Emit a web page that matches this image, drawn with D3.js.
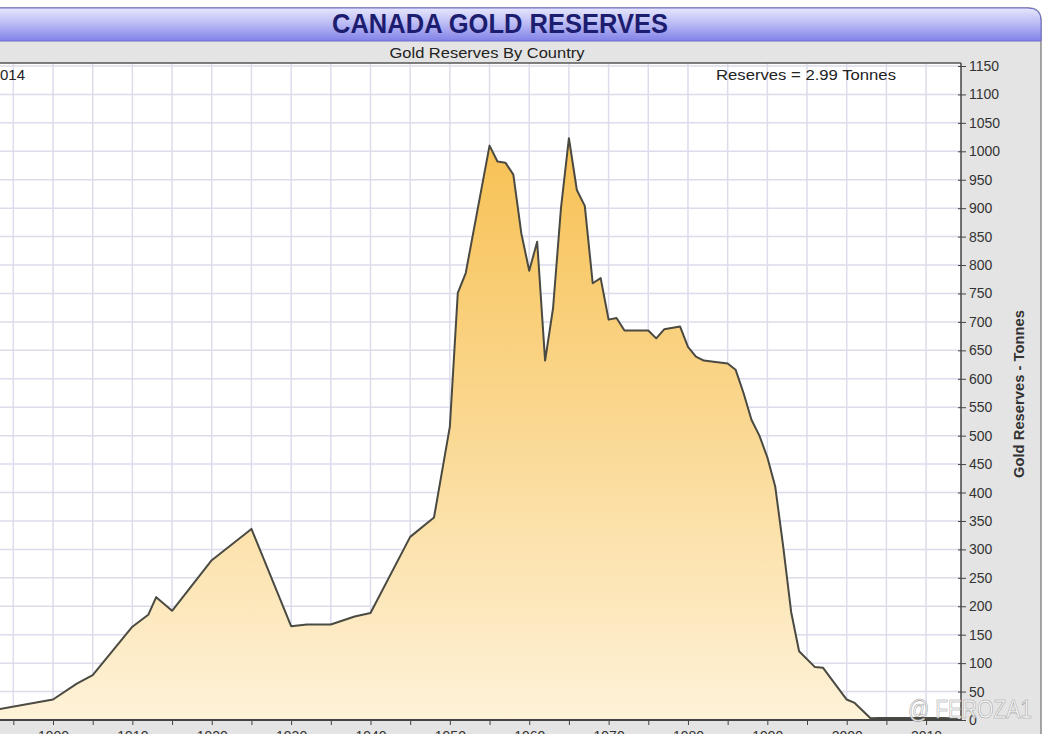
<!DOCTYPE html>
<html>
<head>
<meta charset="utf-8">
<script src="https://cdn.jsdelivr.net/npm/d3@7"></script>
<style>
  html, body { margin: 0; padding: 0; background: #fff; overflow: hidden; }
  svg { display: block; font-family: "Liberation Sans", Arial, sans-serif; }
</style>
</head>
<body>
<svg id="chart" width="1047" height="734"></svg>
<script>
// values (tonnes)
const years = [
  1890, 1900, 1903, 1905, 1910, 1912, 1913, 1915, 1920, 1925,
  1930, 1932, 1935, 1938, 1940, 1945, 1948, 1950, 1951, 1952,
  1955, 1956, 1957, 1958, 1959, 1960, 1961, 1962, 1963, 1964,
  1965, 1966, 1967, 1968, 1969, 1970, 1971, 1972, 1975, 1976,
  1977, 1979, 1980, 1981, 1982, 1985, 1986, 1987, 1988, 1989,
  1990, 1991, 1992, 1993, 1994, 1996, 1997, 2000, 2001, 2003,
  2004, 2005, 2006, 2007, 2008, 2009, 2010, 2011, 2012, 2013, 2014,
];
const reserves = [
  11, 36, 64, 79, 164, 185, 216, 192, 281, 336,
  165, 168, 168, 182, 188, 322, 356, 516, 751, 786,
  1010, 982, 980, 959, 856, 790, 841, 632, 724, 900,
  1023, 932, 904, 768, 777, 704, 707, 685, 685, 671,
  687, 692, 656, 639, 632, 627, 616, 575, 528, 500,
  462, 410, 305, 190, 121, 93, 92, 36, 30, 3,
  3.4, 3.4, 3.4, 3.4, 3.4, 3.4, 3.4, 3.4, 3.4, 3.0, 3.0,
];
const yTicks = d3.range(0, 1151, 50);
const xTicks = d3.range(1890, 2015, 5);

const TITLE = "CANADA GOLD RESERVES";
const SUBTITLE = "Gold Reserves By Country";
const NOTE = "Reserves = 2.99 Tonnes";
const DATE_STUB = "014"; // left part of the date is cropped in the source
const Y_TITLE = "Gold Reserves - Tonnes";

const data = years.map((yr, i) => ({ year: yr, value: reserves[i] }));

const svg = d3.select("#chart");
const W = 1047, H = 734;
const plot = { left: -30, right: 961, top: 63, bottom: 720 };

// 1900 sits at x=53, 2010 at x=926 in the source
const x = d3.scaleLinear()
  .domain([1890, 2014.4])
  .range([53 - 10 * 7.936, plot.right]);
const y = d3.scaleLinear()
  .domain([0, 1150])
  .range([plot.bottom, 66]);

const defs = svg.append("defs");

// header bar gradient
const hdr = defs.append("linearGradient")
  .attr("id", "hdr").attr("x1", 0).attr("y1", 0).attr("x2", 0).attr("y2", 1);
hdr.append("stop").attr("offset", "0%").attr("stop-color", "#e6e6fd");
hdr.append("stop").attr("offset", "45%").attr("stop-color", "#bdbdf5");
hdr.append("stop").attr("offset", "100%").attr("stop-color", "#8181e8");

// area fill: gold at top fading to cream at the baseline
const gold = defs.append("linearGradient")
  .attr("id", "gold")
  .attr("gradientUnits", "userSpaceOnUse")
  .attr("x1", 0).attr("y1", y(1050)).attr("x2", 0).attr("y2", y(0));
gold.append("stop").attr("offset", "0%").attr("stop-color", "#f7c050");
gold.append("stop").attr("offset", "45%").attr("stop-color", "#fad58a");
gold.append("stop").attr("offset", "100%").attr("stop-color", "#fef2d8");

// frame
svg.append("rect")
  .attr("width", W).attr("height", H).attr("fill", "#fff");
svg.append("path")
  .attr("d", `M-10,8 H1028 Q1041,8 1041,21 V${H + 10} H-10 Z`)
  .attr("fill", "#e4e4e4")
  .attr("stroke", "#8a8a8a")
  .attr("stroke-width", 1.5);
svg.append("path")
  .attr("d", "M-10,8 H1028 Q1041,8 1041,21 V41 H-10 Z")
  .attr("fill", "url(#hdr)")
  .attr("stroke", "#6c6cd0")
  .attr("stroke-width", 1);

svg.append("text")
  .attr("x", 500).attr("y", 33)
  .attr("text-anchor", "middle")
  .attr("textLength", 336).attr("lengthAdjust", "spacingAndGlyphs")
  .style("font-size", "27px").style("font-weight", "bold")
  .style("fill", "#1d1d70")
  .text(TITLE);

svg.append("text")
  .attr("x", 487).attr("y", 58)
  .attr("text-anchor", "middle")
  .attr("textLength", 195).attr("lengthAdjust", "spacingAndGlyphs")
  .style("font-size", "15px").style("fill", "#222")
  .text(SUBTITLE);

// plot background
svg.append("rect")
  .attr("x", plot.left).attr("y", plot.top)
  .attr("width", plot.right - plot.left)
  .attr("height", plot.bottom - plot.top)
  .attr("fill", "#fff");

// grid
const grid = svg.append("g").attr("class", "grid")
  .attr("stroke", "#dcdcec").attr("stroke-width", 1.5);
grid.selectAll(".gx")
  .data(xTicks)
  .join("line")
  .attr("x1", (d) => x(d)).attr("x2", (d) => x(d))
  .attr("y1", plot.top).attr("y2", plot.bottom);
grid.selectAll(".gy")
  .data(yTicks.filter((d) => d > 0))
  .join("line")
  .attr("x1", plot.left).attr("x2", plot.right)
  .attr("y1", (d) => y(d)).attr("y2", (d) => y(d));

// area + outline
const area = d3.area()
  .x((d) => x(d.year))
  .y0(y(0))
  .y1((d) => y(d.value));
const line = d3.line()
  .x((d) => x(d.year))
  .y((d) => y(d.value));

svg.append("path")
  .datum(data)
  .attr("d", area)
  .attr("fill", "url(#gold)");
svg.append("path")
  .datum(data)
  .attr("d", line)
  .attr("fill", "none")
  .attr("stroke", "#4a4a42")
  .attr("stroke-width", 2)
  .attr("stroke-linejoin", "round");

// plot top border
svg.append("line")
  .attr("x1", plot.left).attr("x2", plot.right)
  .attr("y1", plot.top).attr("y2", plot.top)
  .attr("stroke", "#555").attr("stroke-width", 1.5);

// right value axis
const yAxis = svg.append("g")
  .attr("transform", `translate(${plot.right},0)`)
  .call(
    d3.axisRight(y)
      .tickValues(yTicks)
      .tickFormat(d3.format("d"))
      .tickSize(5)
      .tickPadding(3)
      .tickSizeOuter(0)
  );
yAxis.select(".domain")
  .attr("d", `M0,${plot.top}V${plot.bottom}`)
  .attr("stroke", "#444").attr("stroke-width", 1.5);
yAxis.selectAll(".tick line").attr("x1", -3).attr("stroke", "#444");
yAxis.selectAll(".tick text")
  .style("font-size", "14px").style("fill", "#333")
  .style("font-family", "'Liberation Sans', Arial, sans-serif");

// bottom year axis
const xAxis = svg.append("g")
  .attr("transform", `translate(0,${plot.bottom})`)
  .call(
    d3.axisBottom(x)
      .tickValues(xTicks)
      .tickFormat((d) => (d % 10 === 0 ? d : ""))
      .tickSize(5)
      .tickPadding(6)
      .tickSizeOuter(0)
  );
xAxis.select(".domain")
  .attr("d", `M${plot.left},0H${plot.right}`)
  .attr("stroke", "#444").attr("stroke-width", 2);
xAxis.selectAll(".tick line").attr("stroke", "#444");
xAxis.selectAll(".tick text")
  .style("font-size", "14px").style("fill", "#333")
  .style("font-family", "'Liberation Sans', Arial, sans-serif");

// in-plot notes
svg.append("text")
  .attr("x", 896).attr("y", 80)
  .attr("text-anchor", "end")
  .attr("textLength", 180).attr("lengthAdjust", "spacingAndGlyphs")
  .style("font-size", "15px").style("fill", "#222")
  .text(NOTE);
svg.append("text")
  .attr("x", 0).attr("y", 80)
  .style("font-size", "15px").style("fill", "#222")
  .text(DATE_STUB);

// axis title
svg.append("text")
  .attr("transform", `translate(1024,${(310 + 478) / 2}) rotate(-90)`)
  .attr("text-anchor", "middle")
  .attr("textLength", 168).attr("lengthAdjust", "spacingAndGlyphs")
  .style("font-size", "14px").style("font-weight", "bold")
  .style("fill", "#333")
  .text(Y_TITLE);

// watermark sitting over the bottom right corner
svg.append("text")
  .attr("x", 908).attr("y", 718)
  .attr("textLength", 124).attr("lengthAdjust", "spacingAndGlyphs")
  .style("font-size", "26px")
  .style("fill", "#fff").style("fill-opacity", 0.9)
  .style("stroke", "#9a9a9a").style("stroke-width", 0.6)
  .text("@ FEROZA1");
</script>
</body>
</html>
